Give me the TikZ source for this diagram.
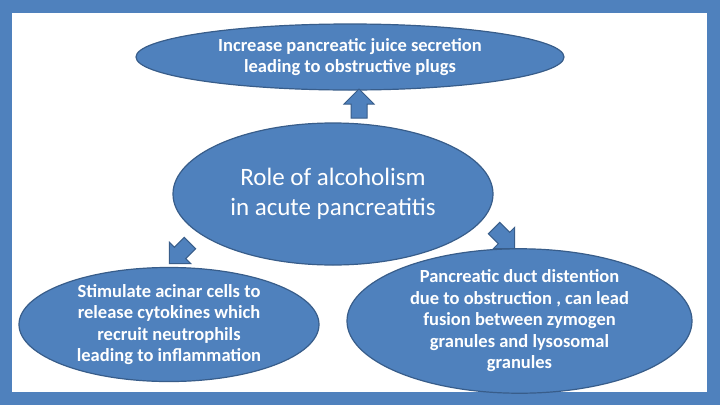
\documentclass[tikz,border=0pt]{standalone}
\usepackage{fontspec}
\setmainfont{Carlito}
\usetikzlibrary{shapes.geometric,shapes.arrows}
\definecolor{boxblue}{RGB}{79,129,189}
\definecolor{edgeblue}{RGB}{56,93,138}
\begin{document}
\begin{tikzpicture}[x=1pt,y=-1pt,
    bubble/.style={ellipse,draw=edgeblue,line width=1.2pt,fill=boxblue,
      text=white,align=center,inner sep=0pt},
    smalltext/.style={font=\bfseries\fontsize{18.5}{21.5}\selectfont},
    push/.style={single arrow,draw=edgeblue,line width=1pt,fill=boxblue,
      minimum height=29pt,minimum width=29pt,single arrow head extend=7pt,
      inner xsep=0pt,inner ysep=7.5pt}]
  % frame
  \fill[boxblue] (0,0) rectangle (720,405);
  \fill[white] (12,13) rectangle (707,392);
  % bubbles
  \node[bubble,smalltext,minimum width=428pt,minimum height=66pt] (plugs) at (350,57)
    {Increase pancreatic juice secretion\\leading to obstructive plugs};
  \node[bubble,minimum width=320pt,minimum height=142pt,
    font=\fontsize{25}{30}\selectfont] (role) at (333,194)
    {Role of alcoholism\\in acute pancreatitis};
  \node[bubble,smalltext,minimum width=300pt,minimum height=105pt] (acinar) at (169,324.5)
    {Stimulate acinar cells to\\release cytokines which\\recruit neutrophils\\leading to inflammation};
  \node[bubble,smalltext,minimum width=345pt,minimum height=132pt] (duct) at (519.5,321)
    {Pancreatic duct distention\\due to obstruction , can lead\\fusion between zymogen\\granules and lysosomal\\granules};
  % block arrows
  \node[push,rotate=90] (toplugs) at (359,107.5) {};
  \node[push,rotate=225] (toacinar) at (182.5,250.5) {};
  \node[push,rotate=-45] (toduct) at (501.5,235.5) {};
\end{tikzpicture}
\end{document}
